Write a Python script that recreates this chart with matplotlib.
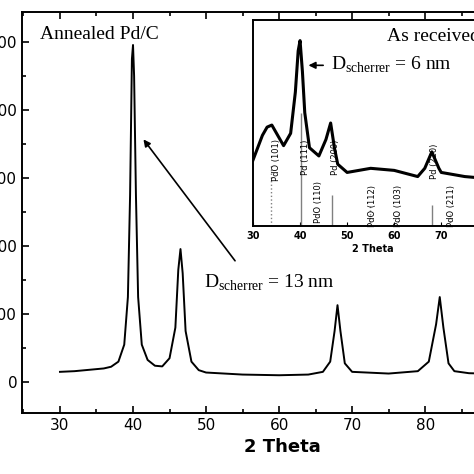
import matplotlib.pyplot as plt
from matplotlib.ticker import MultipleLocator

# annealed Pd/C pattern
theta_main = [30, 32, 34, 36, 37, 38, 38.8, 39.3, 39.6, 39.85, 40, 40.15, 40.4, 40.7, 41.2, 42, 43, 44, 45,
              45.8, 46.2, 46.5, 46.8, 47.2, 48, 49, 50, 55, 60, 64, 66, 67, 67.6, 68, 68.4, 69, 70, 75, 79,
              80.5, 81.5, 82, 82.5, 83.2, 84, 86, 88, 90]
counts_main = [30, 32, 36, 40, 45, 60, 110, 250, 550, 950, 991, 900, 550, 250, 110, 65, 48, 46, 70,
               160, 330, 391, 320, 150, 60, 35, 28, 22, 20, 22, 30, 60, 150, 226, 150, 55, 30, 25, 32,
               60, 170, 250, 160, 55, 32, 26, 25, 24]

# as received pattern (inset, arbitrary units)
theta_in = [30, 31, 32, 33, 34, 35, 36.5, 38, 39, 39.6, 40, 40.5, 41, 42, 44, 45.5, 46.5, 47.3, 48, 50,
            55, 60, 65, 66.5, 68, 69.5, 70, 75, 80]
counts_in = [0.32, 0.38, 0.44, 0.48, 0.49, 0.45, 0.39, 0.45, 0.65, 0.85, 0.90, 0.75, 0.55, 0.38, 0.34,
             0.42, 0.50, 0.38, 0.30, 0.26, 0.28, 0.27, 0.24, 0.28, 0.36, 0.28, 0.26, 0.24, 0.23]

ref_pos = [33.9, 40.1, 46.7, 54.8, 60.8, 68.1, 71.8]
ref_height = [0.30, 0.55, 0.15, 0.10, 0.06, 0.10, 0.06]
ref_solid = [False, True, True, False, False, True, False]
ref_labels = ['PdO (101)', 'Pd (111)', 'PdO (110)', 'Pd (200)', 'PdO (112)', 'PdO (103)', 'Pd (220)', 'PdO (211)']
ref_label_x = [35.0, 41.2, 44.0, 47.5, 55.5, 61.0, 68.5, 72.2]
ref_label_y = [0.42, 0.42, 0.22, 0.42, 0.20, 0.20, 0.40, 0.20]

serif = ['Liberation Serif', 'DejaVu Serif']

fig = plt.figure(figsize=(4.74, 4.74), dpi=100)
ax = fig.add_axes([22 / 474, 1 - 413 / 474, 520 / 474, 401 / 474])
ax.plot(theta_main, counts_main, color='black', lw=1.4)
ax.set_xlim(24.8, 96)
ax.set_ylim(-91, 1088)
ax.xaxis.set_major_locator(MultipleLocator(10))
ax.xaxis.set_minor_locator(MultipleLocator(5))
ax.yaxis.set_major_locator(MultipleLocator(200))
ax.yaxis.set_minor_locator(MultipleLocator(100))
ax.tick_params(which='both', direction='in', top=True, labelsize=11, width=1.2)
ax.tick_params(which='major', length=5)
ax.tick_params(which='minor', length=3)
for s in ax.spines.values():
    s.set_linewidth(1.4)
ax.set_xlabel('2 Theta', fontsize=13, fontweight='bold')
ax.text(0.035, 0.965, 'Annealed Pd/C', transform=ax.transAxes, fontsize=14, family=serif, va='top')
ax.annotate('', xy=(41.2, 720), xytext=(54.2, 350),
            arrowprops=dict(arrowstyle='-|>', color='black', lw=1.2))
ax.text(49.7, 291, r'D$_{\mathregular{scherrer}}$ = 13 nm', fontsize=14, family=serif, va='center')

ins = fig.add_axes([253 / 474, 1 - 226 / 474, 240 / 474, 206 / 474])
ins.plot(theta_in, counts_in, color='black', lw=2.2)
for p, h, sol in zip(ref_pos, ref_height, ref_solid):
    ins.vlines(p, 0, h, color='gray', lw=1.0, linestyles='-' if sol else ':')
for lab, lx, ly in zip(ref_labels, ref_label_x, ref_label_y):
    ins.text(lx, ly, lab, rotation=90, fontsize=6, ha='center', va='top')
ins.set_xlim(30, 81)
ins.set_ylim(0, 1)
ins.set_yticks([])
ins.xaxis.set_major_locator(MultipleLocator(10))
ins.tick_params(direction='in', labelsize=7, length=3)
for lab in ins.get_xticklabels():
    lab.set_fontweight('bold')
for s in ins.spines.values():
    s.set_linewidth(1.4)
ins.set_xlabel('2 Theta', fontsize=7, fontweight='bold', labelpad=2)
ins.text(0.56, 0.92, 'As received', transform=ins.transAxes, fontsize=14, family=serif, va='center')
ins.annotate('', xy=(41.2, 0.78), xytext=(45.5, 0.78),
             arrowprops=dict(arrowstyle='-|>', color='black', lw=1.2))
ins.text(46.5, 0.78, r'D$_{\mathregular{scherrer}}$ = 6 nm', fontsize=14, family=serif, va='center')

fig.savefig('out.png', dpi=100)
